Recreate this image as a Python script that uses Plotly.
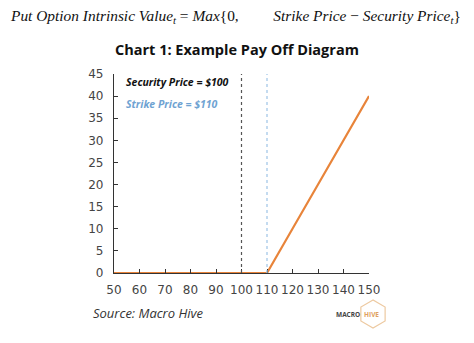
import math
import plotly.graph_objects as go

# Data
x_vals = [50, 60, 70, 80, 90, 100, 110, 120, 130, 140, 150]
payoff = [0, 0, 0, 0, 0, 0, 0, 10, 20, 30, 40]
security_price = 100
strike_price = 110
x_ticks = [50, 60, 70, 80, 90, 100, 110, 120, 130, 140, 150]
y_ticks = [0, 5, 10, 15, 20, 25, 30, 35, 40, 45]

W, H = 474, 343
L, R, T, B = 114, 105, 74, 70
PW, PH = W - L - R, H - T - B

fig = go.Figure()
fig.add_trace(go.Scatter(x=x_vals, y=payoff, mode="lines",
                         line=dict(color="#E8843A", width=2.2), showlegend=False))

fig.add_shape(type="line", x0=security_price, x1=security_price, y0=0, y1=45,
              xref="x", yref="y", line=dict(color="#555555", width=1.2, dash="dot"))
fig.add_shape(type="line", x0=strike_price, x1=strike_price, y0=0, y1=45,
              xref="x", yref="y", line=dict(color="#9DC3E6", width=1.2, dash="dot"))

def px(xp):
    return (xp - L) / PW
def py(yp):
    return (H - B - yp) / PH

nb = "\u00a0"
formula = ("<i>Put Option Intrinsic Value<sub>t</sub></i> = <i>Max</i>{0," + nb * 9 +
           "<i>Strike Price</i> − <i>Security Price<sub>t</sub></i>}")

anns = [
    dict(text=formula, x=px(235), y=py(16), xref="paper", yref="paper",
         showarrow=False, xanchor="center", yanchor="middle",
         font=dict(family="Liberation Serif", size=15.4, color="#111111")),
    dict(text="<b>Chart 1: Example Pay Off Diagram</b>", x=px(237), y=py(50),
         xref="paper", yref="paper", showarrow=False, xanchor="center", yanchor="middle",
         font=dict(family="Open Sans", size=14.5, color="#111111")),
    dict(text="<b><i>Security Price = $100</i></b>", x=px(124), y=py(82),
         xref="paper", yref="paper", showarrow=False, xanchor="left", yanchor="middle",
         font=dict(family="Open Sans", size=10.5, color="#111111")),
    dict(text="<b><i>Strike Price = $110</i></b>", x=px(124), y=py(104),
         xref="paper", yref="paper", showarrow=False, xanchor="left", yanchor="middle",
         font=dict(family="Open Sans", size=10.5, color="#6FA3D2")),
    dict(text="<i>Source: Macro Hive</i>", x=px(91), y=py(313),
         xref="paper", yref="paper", showarrow=False, xanchor="left", yanchor="middle",
         font=dict(family="Open Sans", size=13, color="#333333")),
    dict(text="<b>MACRO</b>", x=px(362), y=py(314),
         xref="paper", yref="paper", showarrow=False, xanchor="right", yanchor="middle",
         font=dict(family="Open Sans", size=6.5, color="#444444")),
    dict(text="<b>HIVE</b>", x=px(362), y=py(314),
         xref="paper", yref="paper", showarrow=False, xanchor="left", yanchor="middle",
         font=dict(family="Open Sans", size=6.5, color="#E0A060")),
]
fig.update_layout(annotations=anns)

# hexagon logo outline
cx, cy, r = 373, 314, 14
pts = []
for k in range(6):
    a = math.radians(90 + 60 * k)
    pts.append((cx + r * math.cos(a), cy - r * math.sin(a)))
path = "M " + " L ".join(f"{px(p[0]):.4f},{py(p[1]):.4f}" for p in pts) + " Z"
fig.add_shape(type="path", path=path, xref="paper", yref="paper",
              line=dict(color="#EDC9A0", width=1.2))

tickfont = dict(family="DejaVu Sans", size=12, color="#444444")
fig.update_xaxes(range=[50, 150], tickvals=x_ticks, showgrid=False, zeroline=False,
                 showline=True, linecolor="#333333", linewidth=1.3,
                 ticks="inside", ticklen=4, tickcolor="#333333", tickangle=0,
                 ticklabelstandoff=5, tickfont=tickfont)
fig.update_yaxes(range=[0, 45], tickvals=y_ticks, showgrid=False, zeroline=False,
                 showline=True, linecolor="#333333", linewidth=1.3,
                 ticks="inside", ticklen=4, tickcolor="#333333",
                 ticklabelstandoff=7, tickfont=tickfont)

fig.update_layout(width=W, height=H, margin=dict(l=L, r=R, t=T, b=B),
                  paper_bgcolor="white", plot_bgcolor="white", showlegend=False)

fig.write_html("out.html")
